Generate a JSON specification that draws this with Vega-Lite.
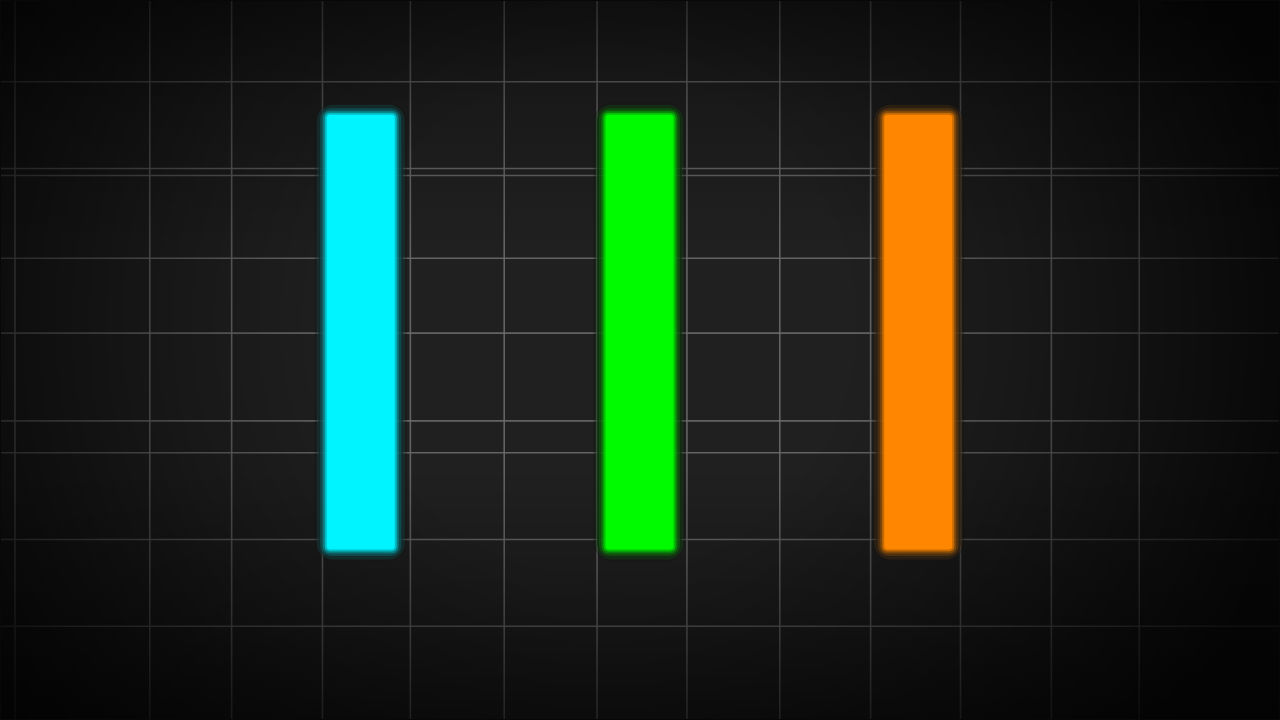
{
  "$schema": "https://vega.github.io/schema/vega-lite/v6.json",
  "width": 1280,
  "height": 720,
  "padding": 0,
  "autosize": {"type": "fit", "contains": "padding"},
  "background": "#080808",
  "config": {"view": {"stroke": "transparent"}, "axis": {"disable": true}},
  "datasets": {
    "vlines": [{"x": 14}, {"x": 149}, {"x": 231}, {"x": 322}, {"x": 410}, {"x": 504}, {"x": 597}, {"x": 687}, {"x": 780}, {"x": 871}, {"x": 961}, {"x": 1052}, {"x": 1140}],
    "hlines": [{"y": 639}, {"y": 552}, {"y": 545}, {"y": 462}, {"y": 387}, {"y": 299}, {"y": 267}, {"y": 180}, {"y": 93}],
    "bars": [
      {"series": "A", "low": 170, "high": 606},
      {"series": "B", "low": 170, "high": 606},
      {"series": "C", "low": 170, "high": 606}
    ],
    "frame": [{"x0": 0, "x1": 1280, "y0": 0, "y1": 720}]
  },
  "resolve": {"scale": {"x": "independent"}},
  "layer": [
    {
      "data": {"name": "frame"},
      "mark": {"type": "rect", "strokeWidth": 0, "color": "#202020"},
      "encoding": {
        "x": {"field": "x0", "type": "quantitative", "scale": {"domain": [0, 1280], "nice": false, "zero": false}, "axis": null},
        "x2": {"field": "x1"},
        "y": {"field": "y0", "type": "quantitative", "scale": {"domain": [0, 720], "nice": false, "zero": false}, "axis": null},
        "y2": {"field": "y1"}
      }
    },
    {
      "data": {"name": "vlines"},
      "mark": {"type": "rule", "color": "#6a6a6a", "strokeWidth": 1.6, "opacity": 0.9},
      "encoding": {
        "x": {"field": "x", "type": "quantitative", "scale": {"domain": [0, 1280], "nice": false, "zero": false}, "axis": null}
      }
    },
    {
      "data": {"name": "hlines"},
      "mark": {"type": "rule", "color": "#6a6a6a", "strokeWidth": 1.6, "opacity": 0.9},
      "encoding": {
        "y": {"field": "y", "type": "quantitative", "scale": {"domain": [0, 720], "nice": false, "zero": false}, "axis": null}
      }
    },
    {
      "data": {"name": "frame"},
      "mark": {"type": "rect", "strokeWidth": 0, "color": {"gradient": "radial", "x1": 0.47, "y1": 0.47, "r1": 0, "x2": 0.47, "y2": 0.47, "r2": 0.55,
        "stops": [{"offset": 0, "color": "rgba(0,0,0,0)"}, {"offset": 0.35, "color": "rgba(0,0,0,0)"}, {"offset": 0.6, "color": "rgba(0,0,0,0.25)"}, {"offset": 0.85, "color": "rgba(0,0,0,0.58)"}, {"offset": 1, "color": "rgba(0,0,0,0.78)"}]}},
      "encoding": {
        "x": {"field": "x0", "type": "quantitative", "scale": {"domain": [0, 1280], "nice": false, "zero": false}, "axis": null},
        "x2": {"field": "x1"},
        "y": {"field": "y0", "type": "quantitative", "scale": {"domain": [0, 720], "nice": false, "zero": false}, "axis": null},
        "y2": {"field": "y1"}
      }
    },
    {
      "data": {"name": "frame"},
      "mark": {"type": "rect", "strokeWidth": 0, "color": {"gradient": "linear", "x1": 0, "y1": 0, "x2": 0, "y2": 1,
        "stops": [{"offset": 0, "color": "rgba(0,0,0,0.5)"}, {"offset": 0.15, "color": "rgba(0,0,0,0.2)"}, {"offset": 0.35, "color": "rgba(0,0,0,0)"}, {"offset": 0.65, "color": "rgba(0,0,0,0)"}, {"offset": 0.85, "color": "rgba(0,0,0,0.28)"}, {"offset": 1, "color": "rgba(0,0,0,0.55)"}]}},
      "encoding": {
        "x": {"field": "x0", "type": "quantitative", "scale": {"domain": [0, 1280], "nice": false, "zero": false}, "axis": null},
        "x2": {"field": "x1"},
        "y": {"field": "y0", "type": "quantitative", "scale": {"domain": [0, 720], "nice": false, "zero": false}, "axis": null},
        "y2": {"field": "y1"}
      }
    },
    {
      "data": {"name": "bars"},
      "layer": [
        {"mark": {"type": "bar", "fillOpacity": 0, "strokeWidth": 24, "strokeOpacity": 0.35, "strokeJoin": "round", "cornerRadius": 8}, "encoding": {"stroke": {"value": "#151515"}}},
        {"mark": {"type": "bar", "fillOpacity": 0, "strokeWidth": 17, "strokeOpacity": 0.75, "strokeJoin": "round", "cornerRadius": 6}, "encoding": {"stroke": {"value": "#151515"}}},
        {"mark": {"type": "bar", "fillOpacity": 0, "strokeWidth": 20, "strokeOpacity": 0.09, "strokeJoin": "round", "cornerRadius": 6}},
        {"mark": {"type": "bar", "fillOpacity": 0, "strokeWidth": 13, "strokeOpacity": 0.16, "strokeJoin": "round", "cornerRadius": 4}},
        {"mark": {"type": "bar", "fillOpacity": 0, "strokeWidth": 8, "strokeOpacity": 0.28, "strokeJoin": "round", "cornerRadius": 3}},
        {"mark": {"type": "bar", "fillOpacity": 0, "strokeWidth": 4, "strokeOpacity": 0.55, "strokeJoin": "round", "cornerRadius": 3}},
        {"mark": {"type": "bar", "cornerRadius": 3, "strokeWidth": 0}}
      ],
      "encoding": {
        "x": {"field": "series", "type": "nominal", "scale": {"domain": ["A", "B", "C"], "range": [47, 1230], "paddingInner": 0.756, "paddingOuter": 1}, "axis": null},
        "y": {"field": "high", "type": "quantitative", "scale": {"domain": [0, 720], "nice": false, "zero": false}, "axis": null},
        "y2": {"field": "low"},
        "color": {"field": "series", "type": "nominal", "scale": {"domain": ["A", "B", "C"], "range": ["#00F4FF", "#00FA00", "#FF8600"]}, "legend": null},
        "stroke": {"field": "series", "type": "nominal", "scale": {"domain": ["A", "B", "C"], "range": ["#00F4FF", "#00FA00", "#FF8600"]}, "legend": null}
      }
    }
  ]
}
